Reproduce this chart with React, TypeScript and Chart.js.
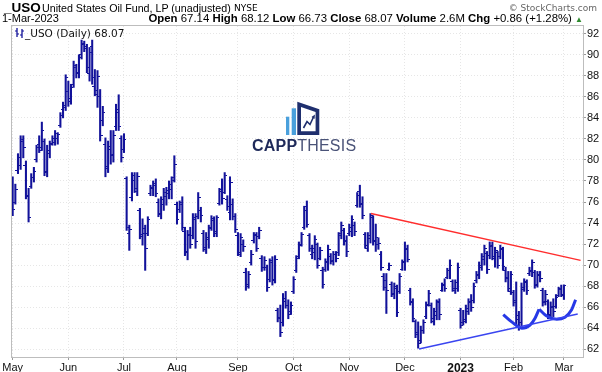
import React, { useEffect, useRef } from 'react';
import { Chart, registerables } from 'chart.js';

Chart.register(...registerables);

// ---- data (x = trading-day index, 0 = 2-May-2022 ... 208 = 1-Mar-2023) ----
const monthTickIndex = [0, 21, 42, 62, 85, 106, 127, 148, 169, 189, 208];
const monthLabels = ['May', 'Jun', 'Jul', 'Aug', 'Sep', 'Oct', 'Nov', 'Dec', '2023', 'Feb', 'Mar'];
const priceTicks = [62, 64, 66, 68, 70, 72, 74, 76, 78, 80, 82, 84, 86, 88, 90, 92];

const opens = [
  78.3, 76.0, 79.0, 79.5, 81.8, 79.5, 76.5, 77.5, 78.3, 80.0,
  81.5, 81.2, 81.8, 78.8, 80.6, 81.6, 81.7, 82.0, 83.3, 84.8,
  85.0, 86.5, 85.8, 87.2, 88.8, 88.3, 90.0, 91.0, 90.6, 88.2,
  90.8, 87.0, 86.2, 86.0, 83.8, 81.5, 79.4, 81.0, 80.4, 83.2,
  84.5, 82.0, 81.0, 78.2, 73.0, 76.4, 78.0, 77.0, 75.2, 72.7,
  73.0, 73.0, 76.8, 77.4, 77.6, 76.0, 74.8, 75.8, 76.5, 76.8,
  77.2, 78.3, 75.8, 75.3, 76.0, 73.2, 71.2, 72.8, 72.8, 74.3,
  74.6, 75.2, 73.0, 71.5, 72.4, 73.6, 74.2, 73.2, 75.9, 77.2,
  76.9, 76.2, 75.0, 75.8, 74.6, 72.8, 71.0, 72.0, 69.3, 68.2,
  70.2, 72.3, 72.8, 72.7, 70.6, 69.8, 69.8, 68.6, 70.4, 68.6,
  65.7, 65.0, 64.5, 66.5, 66.2, 65.6, 67.5, 69.5, 70.8, 72.0,
  73.6, 75.6, 72.8, 71.0, 71.2, 72.0, 70.6, 69.5, 69.6, 70.2,
  70.8, 70.3, 71.0, 71.2, 73.0, 73.3, 72.3, 73.0, 73.2, 73.8,
  75.7, 77.0, 75.8, 72.9, 71.6, 72.5, 74.5, 72.2, 72.0, 71.0,
  68.9, 68.5, 69.6, 68.2, 67.2, 67.8, 67.5, 69.6, 70.3, 71.5,
  67.6, 66.4, 64.6, 63.6, 62.8, 63.8, 65.1, 66.3, 66.2, 64.6,
  65.2, 66.5, 67.6, 68.2, 68.8, 69.5, 68.4, 67.6, 67.8, 65.7,
  64.5, 64.8, 65.6, 66.4, 66.6, 68.5, 69.0, 69.8, 70.5, 71.1,
  70.9, 71.8, 70.6, 71.2, 70.8, 71.5, 69.5, 68.8, 67.5, 67.4,
  66.6, 65.2, 64.5, 67.7, 68.3, 69.2, 69.4, 69.3, 68.1, 69.1,
  67.6, 66.4, 66.5, 65.2, 66.0, 66.1, 67.1, 67.8, 67.14,
];
const highs = [
  78.4, 77.7, 80.6, 82.3, 82.3, 79.9, 77.3, 78.7, 79.3, 81.4,
  82.3, 83.6, 82.0, 81.4, 81.8, 82.3, 82.8, 82.6, 84.5, 85.5,
  88.1, 87.5, 87.2, 89.4, 89.1, 90.0, 91.4, 91.3, 91.0, 90.7,
  91.4, 88.6, 88.5, 86.7, 85.1, 82.1, 81.8, 82.8, 82.8, 85.3,
  86.2, 82.3, 82.5, 78.4, 73.8, 78.8, 78.8, 78.8, 75.4, 74.4,
  73.8, 74.6, 77.6, 78.0, 78.2, 76.3, 76.5, 77.3, 77.4, 78.0,
  78.4, 80.4, 76.0, 76.1, 76.5, 73.6, 73.3, 73.6, 74.9, 74.9,
  76.9, 75.5, 73.3, 73.1, 73.8, 74.7, 74.6, 74.7, 77.3, 78.2,
  78.8, 76.6, 78.4, 76.3, 74.9, 73.1, 73.0, 72.4, 69.7, 69.4,
  71.4, 73.1, 73.1, 73.6, 70.9, 70.8, 70.0, 70.6, 70.8, 70.9,
  65.9, 66.2, 67.3, 67.5, 66.7, 66.5, 68.9, 70.9, 72.2, 73.1,
  75.6, 76.1, 73.0, 71.9, 72.8, 72.1, 71.7, 69.8, 70.6, 71.9,
  71.1, 71.3, 71.3, 73.1, 74.1, 73.5, 72.8, 73.9, 74.7, 74.1,
  76.9, 77.6, 76.5, 73.1, 73.1, 74.9, 74.7, 73.9, 72.6, 71.3,
  69.2, 69.2, 70.2, 68.4, 68.3, 68.1, 69.2, 70.5, 72.2, 71.9,
  67.8, 66.8, 64.8, 64.6, 64.2, 64.8, 66.5, 67.6, 66.4, 65.9,
  66.7, 66.8, 68.3, 68.7, 69.7, 70.5, 68.6, 68.6, 70.2, 65.9,
  65.7, 66.2, 66.8, 67.2, 68.3, 69.4, 70.3, 71.1, 71.9, 71.3,
  72.2, 72.2, 71.7, 71.3, 71.9, 71.7, 69.8, 69.4, 69.4, 67.6,
  68.4, 65.6, 68.3, 68.7, 68.6, 69.8, 70.5, 69.5, 69.4, 69.4,
  67.8, 67.6, 66.7, 66.5, 66.8, 67.2, 67.9, 68.1, 68.12,
];
const lows = [
  74.7, 75.8, 78.7, 79.1, 80.2, 76.3, 74.1, 77.3, 77.9, 79.8,
  80.7, 80.9, 78.5, 78.4, 80.2, 81.4, 81.4, 81.5, 83.1, 84.0,
  84.7, 85.1, 85.3, 86.9, 87.8, 87.8, 89.6, 90.3, 88.3, 87.5,
  87.2, 86.1, 85.0, 81.8, 83.25, 78.4, 78.8, 79.6, 79.8, 82.8,
  82.8, 79.8, 80.7, 73.3, 71.4, 76.1, 76.9, 76.6, 72.5, 71.9,
  69.5, 72.8, 76.6, 76.6, 76.5, 74.6, 74.4, 75.2, 75.7, 76.3,
  76.3, 77.9, 73.9, 75.0, 73.3, 70.9, 70.5, 71.6, 72.5, 71.6,
  74.4, 74.1, 71.3, 71.1, 71.6, 73.3, 72.7, 72.7, 75.7, 75.8,
  76.8, 75.2, 74.3, 74.3, 73.1, 70.9, 70.8, 71.3, 67.6, 67.8,
  70.0, 72.1, 71.3, 72.5, 69.4, 69.5, 67.5, 68.4, 68.1, 68.3,
  64.6, 63.2, 64.2, 65.9, 64.9, 65.3, 67.3, 69.3, 70.6, 71.8,
  73.4, 73.6, 71.3, 70.6, 70.5, 69.7, 70.5, 67.8, 69.4, 69.5,
  70.1, 70.0, 70.3, 70.9, 72.5, 71.9, 70.8, 72.8, 72.7, 72.8,
  75.5, 75.5, 74.4, 71.6, 71.3, 72.1, 71.9, 71.3, 71.5, 69.5,
  67.6, 65.4, 69.5, 67.0, 66.8, 65.1, 67.3, 69.5, 69.5, 70.3,
  66.2, 64.6, 63.1, 62.1, 62.6, 63.5, 64.9, 66.1, 64.5, 64.3,
  64.8, 64.8, 67.5, 67.5, 68.7, 68.7, 67.5, 67.3, 67.5, 64.0,
  64.3, 64.5, 65.3, 65.6, 66.4, 68.3, 68.7, 69.5, 70.0, 69.2,
  70.6, 70.5, 69.8, 69.7, 70.6, 69.5, 68.4, 67.5, 67.2, 66.1,
  64.3, 63.8, 64.2, 67.5, 67.2, 69.0, 68.9, 67.8, 67.9, 68.4,
  66.1, 66.2, 64.9, 64.9, 65.1, 65.9, 67.0, 67.0, 66.73,
];
const closes = [
  75.3, 77.2, 80.2, 81.9, 81.2, 76.6, 74.5, 78.3, 78.9, 81.2,
  80.9, 82.8, 78.9, 80.9, 81.5, 82.0, 82.5, 82.4, 84.2, 85.2,
  87.8, 85.6, 86.9, 89.0, 88.2, 89.7, 91.1, 90.8, 88.8, 90.2,
  87.8, 86.6, 87.9, 82.3, 84.5, 79.2, 81.3, 80.5, 82.3, 84.8,
  83.2, 80.2, 81.9, 73.6, 73.4, 78.5, 77.3, 78.4, 72.9, 73.5,
  71.6, 74.3, 77.3, 77.8, 76.8, 74.9, 76.2, 76.9, 77.1, 77.7,
  78.0, 79.6, 74.3, 75.8, 73.6, 71.3, 72.9, 72.0, 74.5, 72.2,
  76.4, 74.7, 71.7, 72.6, 73.5, 74.4, 73.0, 74.5, 77.0, 76.3,
  78.5, 75.6, 77.9, 74.6, 73.4, 71.2, 72.6, 71.8, 68.0, 69.1,
  71.0, 72.9, 71.6, 73.3, 69.8, 70.4, 67.9, 70.2, 68.5, 70.5,
  64.9, 63.6, 66.8, 66.2, 65.3, 66.2, 68.6, 70.6, 71.9, 72.9,
  75.2, 73.9, 71.6, 71.6, 72.4, 70.0, 71.4, 68.2, 70.3, 71.5,
  70.4, 71.0, 70.6, 72.8, 73.8, 72.2, 71.3, 73.6, 74.3, 73.2,
  76.6, 75.9, 74.7, 71.9, 72.8, 74.7, 72.3, 72.6, 72.1, 69.8,
  67.9, 67.6, 70.0, 67.3, 68.0, 65.5, 68.9, 70.2, 71.6, 70.5,
  66.5, 64.9, 63.4, 62.5, 63.8, 64.5, 66.2, 67.3, 64.9, 65.6,
  66.4, 65.3, 68.1, 67.8, 69.5, 70.0, 67.8, 68.3, 69.8, 64.3,
  64.6, 65.9, 66.5, 66.0, 68.0, 69.1, 70.0, 70.8, 71.6, 69.6,
  71.9, 70.8, 71.4, 70.0, 71.6, 69.9, 68.7, 67.8, 69.1, 66.4,
  64.8, 64.2, 67.9, 68.4, 67.6, 69.5, 70.2, 68.2, 69.0, 68.7,
  66.5, 67.2, 65.3, 66.1, 65.6, 66.9, 67.7, 67.21, 68.07,
];

// hand-drawn annotations (trading-day index, price)
const resistanceLine = [{ x: 135.2, y: 74.9 }, { x: 214.3, y: 70.45 }];
const supportLine = [{ x: 153.3, y: 62.02 }, { x: 213.2, y: 65.35 }];
const leftCup = [
  { x: 185.1, y: 65.3 }, { x: 188.3, y: 64.6 }, { x: 192.1, y: 64.0 },
  { x: 195.2, y: 64.3 }, { x: 197.1, y: 64.95 }, { x: 198.6, y: 65.8 },
];
const rightCup = [
  { x: 198.7, y: 65.8 }, { x: 201.5, y: 65.15 }, { x: 205.3, y: 64.85 },
  { x: 208.4, y: 65.05 }, { x: 210.9, y: 65.75 }, { x: 212.4, y: 66.7 },
];

const BAR = '#12129a';
const SANS = '"Liberation Sans", Arial, sans-serif';
const DEJAVU = '"DejaVu Sans", Verdana, sans-serif';

const framePlugin = {
  id: 'frame',
  afterDatasetsDraw(chart: any) {
    const { ctx, chartArea } = chart;
    const { left, right, top, bottom } = chartArea;
    ctx.save();
    ctx.strokeStyle = '#bdbdbd';
    ctx.lineWidth = 1;
    ctx.strokeRect(left - 0.5, top - 0.5, right - left + 1, bottom - top + 1);
    ctx.restore();
  },
};

function mkTick(side: 'left' | 'right') {
  const c = document.createElement('canvas');
  c.width = 5;
  c.height = 1;
  const g = c.getContext('2d')!;
  g.fillStyle = BAR;
  g.fillRect(side === 'left' ? 0 : 3, 0, 2, 1);
  return c;
}

export default function App() {
  const ref = useRef<HTMLCanvasElement>(null);

  useEffect(() => {
    const canvas = ref.current;
    if (!canvas) return;
    const leftTick = mkTick('left');
    const rightTick = mkTick('right');
    const chart = new Chart(canvas, {
      type: 'bar',
      data: {
        datasets: [
          {
            type: 'line',
            data: resistanceLine,
            borderColor: '#ff2d2d',
            borderWidth: 1.5,
            pointRadius: 0,
            order: 0,
          } as any,
          {
            type: 'line',
            data: supportLine,
            borderColor: '#3a45f0',
            borderWidth: 1.5,
            pointRadius: 0,
            order: 0,
          } as any,
          {
            type: 'line',
            data: leftCup,
            borderColor: '#2638e6',
            borderWidth: 3,
            pointRadius: 0,
            cubicInterpolationMode: 'monotone',
            order: 0,
          } as any,
          {
            type: 'line',
            data: rightCup,
            borderColor: '#2638e6',
            borderWidth: 3,
            pointRadius: 0,
            cubicInterpolationMode: 'monotone',
            order: 0,
          } as any,
          {
            type: 'scatter',
            data: opens.map((o, i) => ({ x: i, y: o })),
            pointStyle: leftTick,
            pointRadius: 1,
            pointHoverRadius: 1,
            order: 1,
          } as any,
          {
            type: 'scatter',
            data: closes.map((c, i) => ({ x: i, y: c })),
            pointStyle: rightTick,
            pointRadius: 1,
            pointHoverRadius: 1,
            order: 1,
          } as any,
          {
            type: 'bar',
            data: highs.map((h, i) => ({ x: i, y: [lows[i], h] })),
            backgroundColor: BAR,
            borderWidth: 0,
            barThickness: 1.4,
            grouped: false,
            order: 2,
          } as any,
        ],
      },
      options: {
        animation: false,
        responsive: false,
        devicePixelRatio: 1,
        events: [],
        layout: { padding: { top: 26, left: 12, right: 0, bottom: 0 } },
        plugins: { legend: { display: false }, tooltip: { enabled: false } },
        scales: {
          x: {
            type: 'linear',
            min: -0.26,
            max: 215.2,
            offset: false,
            grid: {
              offset: false,
              color: '#e6e6e6',
              drawTicks: true,
              tickLength: 3,
              tickColor: '#9a9a9a',
            },
            border: { display: false, dash: [1, 2] },
            afterBuildTicks: (scale: any) => {
              scale.ticks = monthTickIndex.map((v) => ({ value: v }));
            },
            afterFit: (scale: any) => {
              scale.height = 15;
            },
            ticks: {
              autoSkip: false,
              maxRotation: 0,
              padding: 1,
              color: '#111',
              font: (ctx: any) =>
                ctx.tick && ctx.tick.value === 169
                  ? { family: SANS, size: 12, weight: 'bold' }
                  : { family: SANS, size: 11 },
              callback: (v: any) => {
                const k = monthTickIndex.indexOf(Number(v));
                return k >= 0 ? monthLabels[k] : '';
              },
            },
          },
          y: {
            type: 'linear',
            position: 'right',
            min: 61.26,
            max: 92.74,
            grid: {
              color: '#e6e6e6',
              drawTicks: true,
              tickLength: 3,
              tickColor: '#9a9a9a',
            },
            border: { display: false, dash: [1, 2] },
            afterBuildTicks: (scale: any) => {
              scale.ticks = priceTicks.map((v) => ({ value: v }));
            },
            afterFit: (scale: any) => {
              scale.width = 19;
            },
            ticks: {
              autoSkip: false,
              padding: 1,
              color: '#111',
              font: { family: SANS, size: 11 },
              callback: (v: any) => String(v),
            },
          },
        },
      },
      plugins: [framePlugin],
    } as any);
    return () => chart.destroy();
  }, []);

  const abs = (extra: React.CSSProperties): React.CSSProperties => ({
    position: 'absolute',
    whiteSpace: 'nowrap',
    lineHeight: 1,
    ...extra,
  });

  return (
    <div
      style={{
        position: 'fixed',
        left: 0,
        top: 0,
        width: 602,
        height: 372,
        background: '#ffffff',
        overflow: 'hidden',
        fontFamily: SANS,
        color: '#000',
      }}
    >
      <canvas ref={ref} width={602} height={372} style={{ display: 'block', position: 'absolute', left: 0, top: 0 }} />

      {/* header line 1 */}
      <span style={abs({ left: 4, top: 0.6, fontSize: 13.5, fontWeight: 'bold' })}>_USO</span>
      <span style={abs({ left: 42, top: 3, fontSize: 10.7 })}>United States Oil Fund, LP (unadjusted)</span>
      <span style={abs({ left: 234, top: 4.4, fontSize: 9, fontFamily: DEJAVU })}>NYSE</span>
      <span style={abs({ right: 5, top: 4.4, fontSize: 9, fontFamily: DEJAVU, color: '#666' })}>© StockCharts.com</span>

      {/* header line 2 */}
      <span style={abs({ left: 2, top: 13.2, fontSize: 11 })}>1-Mar-2023</span>
      <span style={abs({ right: 19, top: 13, fontSize: 11.4 })}>
        <b>Open</b> 67.14 <b>High</b> 68.12 <b>Low</b> 66.73 <b>Close</b> 68.07 <b>Volume</b> 2.6M{' '}
        <b>Chg</b> +0.86 (+1.28%) <span style={{ color: '#2e8b2e', fontSize: 8 }}>▲</span>
      </span>

      {/* in-plot legend */}
      <svg style={{ position: 'absolute', left: 15, top: 28 }} width={9} height={10}>
        <line x1={2} y1={0} x2={2} y2={9} stroke={BAR} strokeWidth={1.3} />
        <line x1={0} y1={3} x2={2} y2={3} stroke={BAR} strokeWidth={1.2} />
        <line x1={2} y1={6} x2={4} y2={6} stroke={BAR} strokeWidth={1.2} />
        <line x1={7} y1={1} x2={7} y2={10} stroke={BAR} strokeWidth={1.3} />
        <line x1={5} y1={7} x2={7} y2={7} stroke={BAR} strokeWidth={1.2} />
        <line x1={7} y1={3} x2={9} y2={3} stroke={BAR} strokeWidth={1.2} />
      </svg>
      <span style={abs({ left: 25, top: 28, fontSize: 10.5, fontFamily: DEJAVU, color: '#111' })}>_USO (Daily) 68.07</span>

      {/* watermark logo */}
      <svg style={{ position: 'absolute', left: 284, top: 100 }} width={38} height={36}>
        <rect x={2} y={16.7} width={3.3} height={18.3} fill="#4aa0dc" />
        <rect x={7.7} y={8.3} width={4.3} height={26.7} fill="#4aa0dc" />
        <path
          d="M13.3 1.7 L35.3 9.3 L35.3 35 L13.3 35 Z M17 7 L31.6 12 L31.6 31.3 L17 31.3 Z"
          fill="#1f2f6e"
          fillRule="evenodd"
        />
        <polyline points="19.5,28 23,21.5 26,24.5 29.5,17" fill="none" stroke="#1f2f6e" strokeWidth={1.6} />
        <polygon points="31,14.5 30.5,19 27.5,17" fill="#1f2f6e" />
      </svg>
      <span style={abs({ left: 252, top: 138.2, fontSize: 16, letterSpacing: 0.2 })}>
        <span style={{ fontWeight: 'bold', color: '#1f2a5a' }}>CAPP</span>
        <span style={{ color: '#4a5378' }}>THESIS</span>
      </span>
    </div>
  );
}
